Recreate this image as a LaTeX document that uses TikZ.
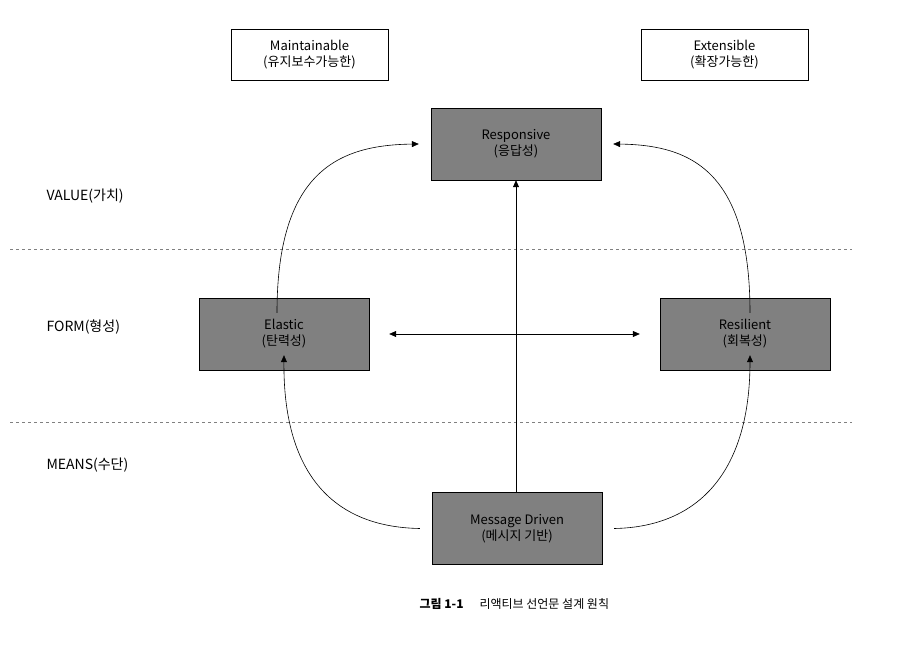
\documentclass[tikz,border=0pt]{standalone}
\usepackage{fontspec}
\setmainfont{Noto Sans CJK KR}
\usetikzlibrary{arrows.meta}
\begin{document}
\begin{tikzpicture}[x=1pt,y=-1pt,
  gbox/.style={draw=black,fill=black!50,minimum width=170pt,minimum height=72pt,align=center,font=\fontsize{13}{16}\selectfont,inner sep=0pt},
  wbox/.style={draw=black,fill=white,minimum height=51pt,align=center,font=\fontsize{13}{16}\selectfont,inner sep=0pt},
  lab/.style={anchor=west,font=\fontsize{14}{16}\selectfont},
  arr/.style={-{Triangle[length=7pt,width=6pt]},line width=0.6pt},
  sep/.style={dashed,gray,line width=0.5pt}]
\useasboundingbox (0,0) rectangle (922,650);
\node[wbox,minimum width=157pt] (mt) at (309.5,54.5) {Maintainable\\(유지보수가능한)};
\node[wbox,minimum width=167pt] (ex) at (724.5,54.5) {Extensible\\(확장가능한)};
\node[gbox] (rs) at (516,144) {Responsive\\(응답성)};
\node[gbox] (el) at (284,334) {Elastic\\(탄력성)};
\node[gbox] (rl) at (745,334) {Resilient\\(회복성)};
\node[gbox] (md) at (517,528.5) {Message Driven\\(메시지 기반)};
\coordinate (d1a) at (10,249); \coordinate (d1b) at (852,249);
\coordinate (d2a) at (10,422); \coordinate (d2b) at (852,422);
\draw[sep] (d1a) -- (d1b);
\draw[sep] (d2a) -- (d2b);
\node[lab] (v) at (43,196) {VALUE(가치)};
\node[lab] (f) at (43,327) {FORM(형성)};
\node[lab] (m) at (43,465) {MEANS(수단)};
\draw[arr] (md.north -| rs.south) -- (rs.south);
\draw[arr,{Triangle[length=7pt,width=6pt]}-{Triangle[length=7pt,width=6pt]}] ([xshift=20pt]el.east) -- ([xshift=-20pt]rl.west);
\draw[arr] ([yshift=-15pt,xshift=-7pt]el.north) .. controls (277,170) and (340,145) .. ([xshift=-12pt]rs.west);
\draw[arr] ([yshift=-15pt,xshift=5pt]rl.north) .. controls (750,170) and (690,145) .. ([xshift=12pt]rs.east);
\draw[arr] ([xshift=-12pt]md.west) .. controls (330,527) and (283,470) .. ([yshift=15pt]el.south);
\draw[arr] ([xshift=12pt]md.east) .. controls (700,527) and (750,470) .. ([yshift=15pt,xshift=5pt]rl.south);
\node[anchor=west,font=\fontsize{12}{14}\selectfont] (cap) at (416,604) {\textbf{그림 1-1}\hspace{16pt}리액티브 선언문 설계 원칙};
\end{tikzpicture}
\end{document}
